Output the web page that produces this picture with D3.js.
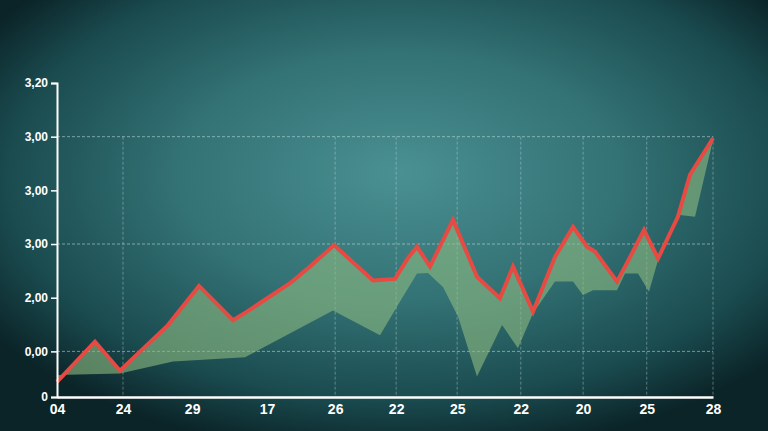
<!DOCTYPE html>
<html>
<head>
<meta charset="utf-8">
<script src="https://cdnjs.cloudflare.com/ajax/libs/d3/7.8.5/d3.min.js"></script>
<style>
  body { margin: 0; background: #0d2a2f; }
  svg { display: block; }
</style>
</head>
<body>
<div id="main_svg"></div>
<script>
// x tick positions (in chart units 0..100) and their labels
var xTicks = [0, 10.06, 20.6, 32.0, 42.4, 51.7, 61.0, 70.7, 80.2, 89.9, 100];
var xLabels = ["04", "24", "29", "17", "26", "22", "25", "22", "20", "25", "28"];
// vertical gridlines drawn only at these ticks
var xGrid = [10.06, 42.4, 51.7, 61.0, 70.7, 80.2, 89.9, 100];

// y ticks and labels
var yTicks = [0, 0.85, 1.85, 2.85, 3.85, 4.85, 5.85];
var yLabels = ["0", "0,00", "2,00", "3,00", "3,00", "3,00", "3,20"];
var yGrid = [0.85, 2.85, 4.85];

// red line
var lineX = [0, 5.79, 9.60, 16.92, 21.65, 26.83, 28.96, 35.52, 38.57, 42.23, 48.17, 51.52,
  53.51, 54.88, 56.86, 60.37, 64.02, 67.53, 69.51, 72.56, 75.91, 78.66, 80.79, 82.01,
  85.37, 87.80, 89.48, 91.62, 94.66, 96.49, 100];
var lineY = [0.28, 1.03, 0.49, 1.34, 2.07, 1.43, 1.59, 2.12, 2.43, 2.83, 2.17, 2.20,
  2.59, 2.80, 2.43, 3.30, 2.24, 1.84, 2.43, 1.59, 2.61, 3.17, 2.80, 2.71,
  2.15, 2.71, 3.11, 2.58, 3.36, 4.14, 4.82];

// lower edge of the green band (top edge is the red line)
var lowX = [0, 9.60, 17.68, 28.66, 42.07, 49.24, 52.29, 54.88, 56.55, 58.84, 61.13, 64.02,
  67.84, 70.27, 72.56, 75.91, 78.66, 80.18, 81.71, 85.37, 86.59, 88.57, 90.24, 91.62,
  94.97, 97.26, 100];
var lowY = [0.41, 0.44, 0.66, 0.74, 1.61, 1.15, 1.78, 2.30, 2.31, 2.05, 1.50, 0.38,
  1.34, 0.91, 1.56, 2.15, 2.15, 1.90, 1.99, 1.99, 2.30, 2.30, 1.96, 2.55,
  3.39, 3.36, 4.79];

var W = 768, H = 431;
var margin = {top: 83, right: 55, bottom: 34, left: 57},
    width = W - margin.left - margin.right,
    height = H - margin.top - margin.bottom;

var svgRoot = d3.select("#main_svg").append("svg")
    .attr("width", W)
    .attr("height", H);

// background gradient
var defs = svgRoot.append("defs");
var grad = defs.append("radialGradient")
    .attr("id", "bg")
    .attr("cx", "52%").attr("cy", "42%")
    .attr("r", "64%")
    .attr("fx", "52%").attr("fy", "40%");
grad.append("stop").attr("offset", "0%").attr("stop-color", "#4a9092");
grad.append("stop").attr("offset", "45%").attr("stop-color", "#337275");
grad.append("stop").attr("offset", "80%").attr("stop-color", "#1a4b4f");
grad.append("stop").attr("offset", "100%").attr("stop-color", "#0b2428");

svgRoot.append("rect")
    .attr("width", W).attr("height", H)
    .attr("fill", "url(#bg)");

var svg = svgRoot.append("g")
    .attr("transform", "translate(" + margin.left + "," + margin.top + ")");

var x = d3.scaleLinear().domain([0, 100]).range([0, width]);
var y = d3.scaleLinear().domain([0, 5.85]).range([height, 0]);

// gridlines
svg.selectAll(".hgrid")
    .data(yGrid)
    .enter().append("line")
    .attr("class", "hgrid")
    .attr("x1", 0).attr("x2", width)
    .attr("y1", function (d) { return y(d); })
    .attr("y2", function (d) { return y(d); })
    .attr("stroke", "#c9dede")
    .attr("stroke-opacity", 0.55)
    .attr("stroke-width", 1)
    .attr("stroke-dasharray", "3,2");

svg.selectAll(".vgrid")
    .data(xGrid)
    .enter().append("line")
    .attr("class", "vgrid")
    .attr("x1", function (d) { return x(d); })
    .attr("x2", function (d) { return x(d); })
    .attr("y1", y(4.85)).attr("y2", height)
    .attr("stroke", "#c9dede")
    .attr("stroke-opacity", 0.4)
    .attr("stroke-width", 1)
    .attr("stroke-dasharray", "3,2");

// green band: red line forward, lower edge back
var topPts = lineX.map(function (d, i) { return [d, lineY[i]]; });
var lowPts = lowX.map(function (d, i) { return [d, lowY[i]]; }).reverse();
var poly = d3.line()
    .x(function (d) { return x(d[0]); })
    .y(function (d) { return y(d[1]); });

svg.append("path")
    .attr("d", poly(topPts.concat(lowPts)) + "Z")
    .attr("fill", "#8dbb80")
    .attr("fill-opacity", 0.6);

// red line
svg.append("path")
    .attr("d", poly(topPts))
    .attr("fill", "none")
    .attr("stroke", "#e54b42")
    .attr("stroke-width", 4)
    .attr("stroke-linejoin", "miter");

// x axis
var xAxis = svg.append("g")
    .attr("transform", "translate(0," + height + ")")
    .call(d3.axisBottom(x)
        .tickValues(xTicks)
        .tickSize(0)
        .tickPadding(7)
        .tickFormat(function (d, i) { return xLabels[i]; }));
xAxis.select(".domain").attr("stroke", "#ffffff").attr("stroke-width", 2.5);
xAxis.selectAll("text")
    .attr("fill", "#ffffff")
    .style("font-family", "'Liberation Sans', Arial, sans-serif")
    .style("font-weight", "bold")
    .style("font-size", "14px");

// y axis
var yAxis = svg.append("g")
    .call(d3.axisLeft(y)
        .tickValues(yTicks)
        .tickSize(6)
        .tickPadding(3)
        .tickFormat(function (d, i) { return yLabels[i]; }));
yAxis.select(".domain").attr("stroke", "#ffffff").attr("stroke-width", 2);
yAxis.selectAll(".tick line").attr("stroke", "#ffffff").attr("stroke-width", 1.5);
yAxis.selectAll("text")
    .attr("fill", "#ffffff")
    .style("font-family", "'Liberation Sans', Arial, sans-serif")
    .style("font-weight", "bold")
    .style("font-size", "12px");
</script>
</body>
</html>
